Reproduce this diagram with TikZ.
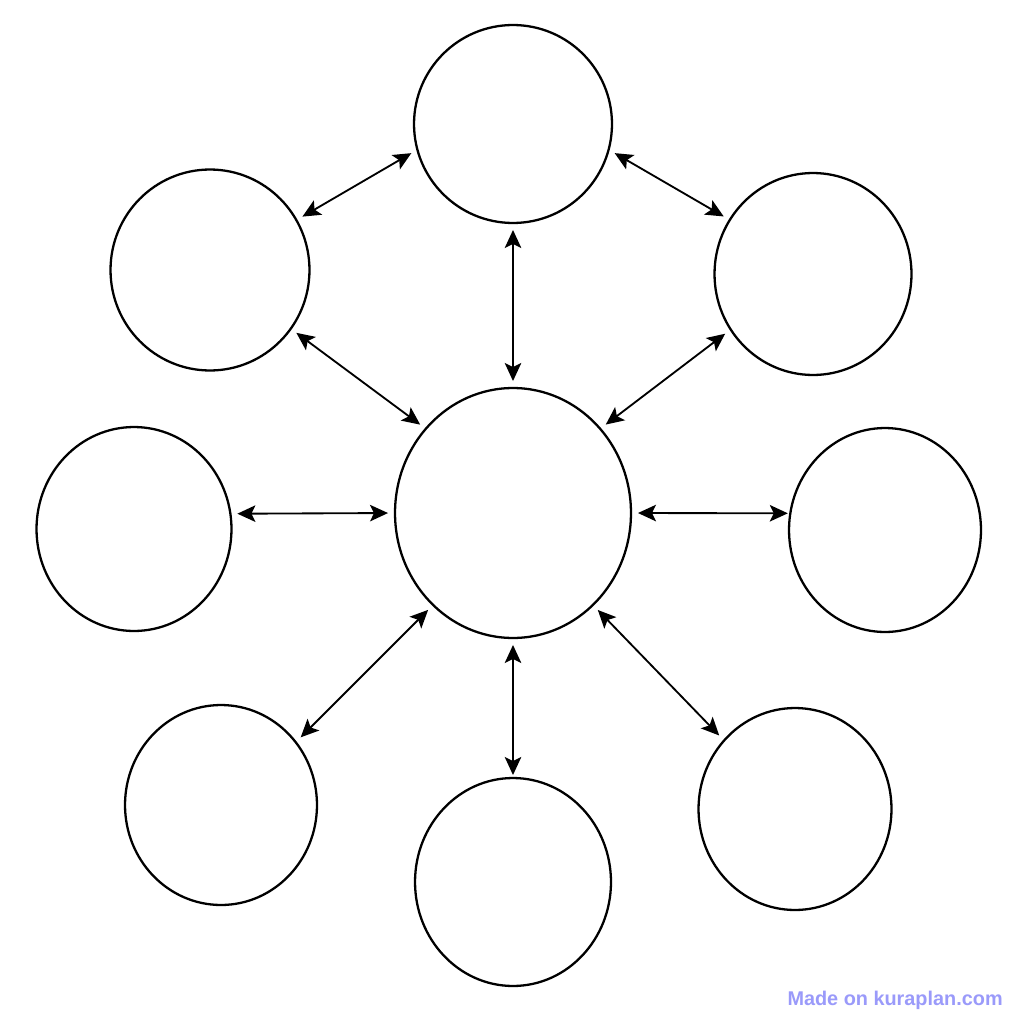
\documentclass[tikz,border=0pt]{standalone}
\usepackage{fontspec}
\setmainfont{Liberation Sans}
\usetikzlibrary{shapes.geometric,arrows.meta}
\definecolor{wm}{HTML}{9A9AFA}
\begin{document}
\begin{tikzpicture}[x=0.02cm,y=-0.02cm,
  bub/.style={draw=black, line width=1.3pt, ellipse, inner sep=0pt, outer sep=0pt, fill=white},
  link/.style={{Stealth[length=0.36cm,width=0.33cm,inset=0.08cm]}-{Stealth[length=0.36cm,width=0.33cm,inset=0.08cm]}, line width=1.05pt, shorten <=0.14cm, shorten >=0.14cm}]
\useasboundingbox[fill=white] (0,0) rectangle (1024,1024);
\node[bub, minimum width=4.72cm, minimum height=5.0cm] (c) at (513,513) {};
\node[bub, minimum width=3.96cm, minimum height=3.96cm] (t) at (513,124) {};
\node[bub, minimum width=3.98cm, minimum height=4.02cm] (tl) at (210,270) {};
\node[bub, minimum width=3.94cm, minimum height=4.04cm] (tr) at (813,274) {};
\node[bub, minimum width=3.90cm, minimum height=4.08cm] (l) at (134,529) {};
\node[bub, minimum width=3.84cm, minimum height=4.08cm] (r) at (885,530) {};
\node[bub, minimum width=3.84cm, minimum height=4.00cm] (bl) at (221,805) {};
\node[bub, minimum width=3.92cm, minimum height=4.16cm] (b) at (513,882) {};
\node[bub, minimum width=3.86cm, minimum height=4.04cm] (br) at (795,809) {};
\draw[link] (tl.30) -- (t.195);
\draw[link] (t.345.5) -- (tr.147);
\draw[link] (t.270) -- (c.90);
\draw[link] (tl.-36.4) -- (c.136.5);
\draw[link] (tr.214.6) -- (c.44);
\draw[link] (l.9.2) -- (c.180);
\draw[link, shorten >=0.05cm] (c.0) -- (r.170.2);
\draw[link] (c.229) -- (bl.40.8);
\draw[link, shorten >=0.06cm] (c.270) -- (b.90);
\draw[link] (c.311) -- (br.136);
\node[anchor=east, text=wm, font=\bfseries\fontsize{11.3}{13}\selectfont, inner sep=0pt] (wmk) at (1003,1000) {Made on kuraplan.com};
\end{tikzpicture}
\end{document}
